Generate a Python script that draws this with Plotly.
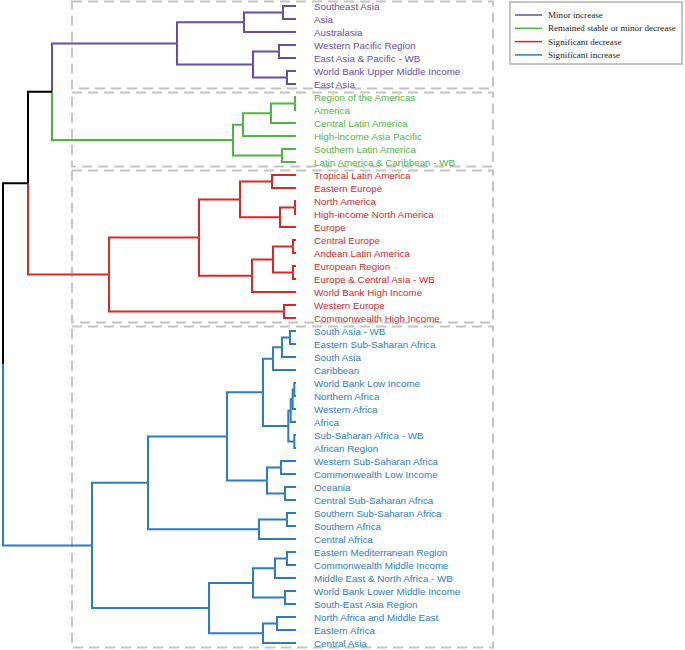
import plotly.graph_objects as go

# ---------------- data ----------------
purple_leaves = ["Southeast Asia", "Asia", "Australasia", "Western Pacific Region",
                 "East Asia & Pacific - WB", "World Bank Upper Middle Income", "East Asia"]
green_leaves = ["Region of the Americas", "America", "Central Latin America",
                "High-income Asia Pacific", "Southern Latin America",
                "Latin America & Caribbean - WB"]
red_leaves = ["Tropical Latin America", "Eastern Europe", "North America",
              "High-income North America", "Europe", "Central Europe",
              "Andean Latin America", "European Region", "Europe & Central Asia - WB",
              "World Bank High Income", "Western Europe", "Commonwealth High Income"]
blue_leaves = ["South Asia - WB", "Eastern Sub-Saharan Africa", "South Asia", "Caribbean",
               "World Bank Low Income", "Northern Africa", "Western Africa", "Africa",
               "Sub-Saharan Africa - WB", "African Region", "Western Sub-Saharan Africa",
               "Commonwealth Low Income", "Oceania", "Central Sub-Saharan Africa",
               "Southern Sub-Saharan Africa", "Southern Africa", "Central Africa",
               "Eastern Mediterranean Region", "Commonwealth Middle Income",
               "Middle East & North Africa - WB", "World Bank Lower Middle Income",
               "South-East Asia Region", "North Africa and Middle East", "Eastern Africa",
               "Central Asia"]

legend_labels = ["Minor increase", "Remained stable or minor decrease",
                 "Significant decrease", "Significant increase"]
cluster_colors = ["#654ea3", "#4fb443", "#d62a2a", "#2f7bbf"]
cluster_leaves = [purple_leaves, green_leaves, red_leaves, blue_leaves]
link_color_above = "#000000"

# merges: (node id, child 1, child 2, merge distance)
merges = [
    ("P1", "Southeast Asia", "Asia", 13),
    ("P2", "P1", "Australasia", 52),
    ("P3", "Western Pacific Region", "East Asia & Pacific - WB", 17),
    ("P4", "World Bank Upper Middle Income", "East Asia", 9),
    ("P5", "P3", "P4", 43),
    ("P6", "P2", "P5", 119),
    ("G1", "Region of the Americas", "America", 1),
    ("G2", "G1", "Central Latin America", 25),
    ("G3", "G2", "High-income Asia Pacific", 53),
    ("G4", "Southern Latin America", "Latin America & Caribbean - WB", 14),
    ("G5", "G3", "G4", 63),
    ("PG", "P6", "G5", 244),
    ("R1", "Tropical Latin America", "Eastern Europe", 24),
    ("R2", "North America", "High-income North America", 1),
    ("R3", "R2", "Europe", 16),
    ("R4", "R1", "R3", 56),
    ("R5", "Central Europe", "Andean Latin America", 3),
    ("R6", "European Region", "Europe & Central Asia - WB", 3),
    ("R7", "R5", "R6", 23),
    ("R8", "R7", "World Bank High Income", 44),
    ("R9", "R4", "R8", 97),
    ("R10", "Western Europe", "Commonwealth High Income", 12),
    ("R11", "R9", "R10", 187),
    ("PGR", "PG", "R11", 268),
    ("B1", "South Asia - WB", "Eastern Sub-Saharan Africa", 6),
    ("B2", "B1", "South Asia", 14),
    ("B3", "B2", "Caribbean", 23),
    ("B4", "World Bank Low Income", "Northern Africa", 1.7),
    ("B5", "B4", "Western Africa", 3.3),
    ("B6", "B5", "Africa", 5.3),
    ("B7", "Sub-Saharan Africa - WB", "African Region", 1.7),
    ("B8", "B6", "B7", 7.7),
    ("B9", "B3", "B8", 33),
    ("B10", "Western Sub-Saharan Africa", "Commonwealth Low Income", 15),
    ("B11", "Oceania", "Central Sub-Saharan Africa", 11),
    ("B12", "B10", "B11", 29),
    ("B13", "B9", "B12", 69),
    ("B14", "Southern Sub-Saharan Africa", "Southern Africa", 9),
    ("B15", "B14", "Central Africa", 37),
    ("B16", "B13", "B15", 148),
    ("B17", "Eastern Mediterranean Region", "Commonwealth Middle Income", 9),
    ("B18", "B17", "Middle East & North Africa - WB", 21),
    ("B19", "World Bank Lower Middle Income", "South-East Asia Region", 11),
    ("B20", "B18", "B19", 43),
    ("B21", "North Africa and Middle East", "Eastern Africa", 19),
    ("B22", "B21", "Central Asia", 33),
    ("B23", "B20", "B22", 87),
    ("B24", "B16", "B23", 204),
    ("ROOT", "PGR", "B24", 293),
]

# ---------------- tree geometry ----------------
leaves = [n for grp in cluster_leaves for n in grp]
ypos, hgt, col = {}, {}, {}
for i, n in enumerate(leaves):
    ypos[n] = i
    hgt[n] = 0.0
for grp, c in zip(cluster_leaves, cluster_colors):
    for n in grp:
        col[n] = c

segs = {}
for node, a, b, h in merges:
    ymid = (ypos[a] + ypos[b]) / 2.0
    ypos[node] = ymid
    hgt[node] = h
    col[node] = col[a] if col[a] == col[b] else link_color_above
    for ch in (a, b):
        xs, ys = segs.setdefault(col[ch], ([], []))
        xs += [hgt[ch], h, h, None]
        ys += [ypos[ch], ypos[ch], ymid, None]

fig = go.Figure()
for c, (xs, ys) in segs.items():
    fig.add_trace(go.Scatter(x=xs, y=ys, mode="lines", line=dict(color=c, width=2),
                             hoverinfo="skip", showlegend=False))

# leaf labels
annotations = []
for n in leaves:
    annotations.append(dict(x=-16, y=ypos[n], text=n, xref="x", yref="y",
                            xanchor="left", yanchor="middle", showarrow=False,
                            font=dict(family="Liberation Sans, Arial", size=9.8, color=col[n])))

# dashed cluster boxes
shapes = []
for grp in cluster_leaves:
    y0 = ypos[grp[0]] - 0.35
    y1 = ypos[grp[-1]] + 0.35
    shapes.append(dict(type="rect", xref="x", yref="y", x0=224, x1=-197, y0=y0, y1=y1,
                       line=dict(color="#c4c4c4", width=2, dash="10px,6px"),
                       fillcolor="rgba(0,0,0,0)", layer="below"))

# legend box (paper coords)
W, H = 685, 650
def px(x): return x / W
def py(y): return 1 - y / H
shapes.append(dict(type="rect", xref="paper", yref="paper", x0=px(510), x1=px(682),
                   y0=py(2), y1=py(64), line=dict(color="#c4c4c4", width=2),
                   fillcolor="white"))
for k, (lab, c) in enumerate(zip(legend_labels, cluster_colors)):
    yy = 15 + 13.3 * k
    shapes.append(dict(type="line", xref="paper", yref="paper", x0=px(515), x1=px(542),
                       y0=py(yy), y1=py(yy), line=dict(color=c, width=1.5)))
    annotations.append(dict(x=px(546), y=py(yy), xref="paper", yref="paper", text=lab,
                            xanchor="left", yanchor="middle", showarrow=False,
                            font=dict(family="Liberation Serif, Times New Roman", size=9.1,
                                      color="#222222")))

fig.update_layout(
    width=W, height=H, autosize=False,
    margin=dict(l=0, r=0, t=0, b=0, pad=0),
    paper_bgcolor="white", plot_bgcolor="white",
    xaxis=dict(range=[296, -389], visible=False, showgrid=False, zeroline=False),
    yaxis=dict(range=[(H - 6) / 13.0, -6 / 13.0], visible=False, showgrid=False,
               zeroline=False),
    shapes=shapes, annotations=annotations, showlegend=False,
)

fig.write_html("out.html", config={"displayModeBar": False},
               post_script="document.body.style.margin='0';document.body.style.overflow='hidden';")
